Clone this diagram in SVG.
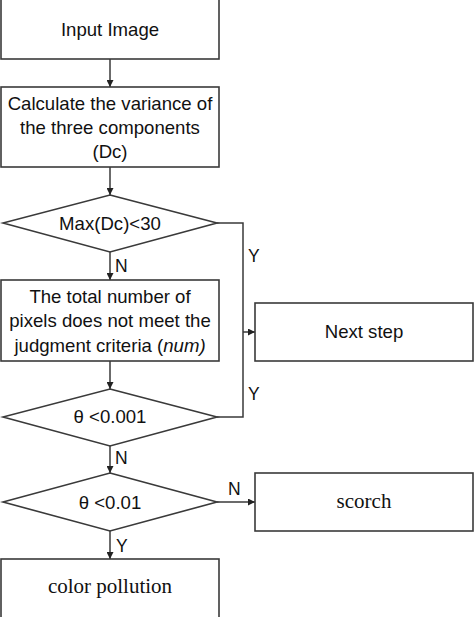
<svg xmlns="http://www.w3.org/2000/svg" width="474" height="617" viewBox="0 0 474 617">
<style>
.b{fill:#fff;stroke:#3a3a3a;stroke-width:1.6}
.c{fill:none;stroke:#3a3a3a;stroke-width:1.5}
.t{font-family:"Liberation Sans",Arial,sans-serif;font-size:18.6px;fill:#111;text-anchor:middle}
.s{font-family:"Liberation Serif","Times New Roman",serif;font-size:21px;fill:#111;text-anchor:middle}
.l{font-family:"Liberation Sans",Arial,sans-serif;font-size:17.5px;fill:#111}
</style>
<defs>
<marker id="a" viewBox="0 0 10 10" refX="10" refY="5" markerWidth="7" markerHeight="7" markerUnits="userSpaceOnUse" orient="auto"><path d="M0,0 L10,5 L0,10 z" fill="#222"/></marker>
</defs>
<rect width="474" height="617" fill="#fff"/>
<g id="connectors">
<path class="c" d="M110,59 V87" marker-end="url(#a)"/>
<path class="c" d="M110,167 V195" marker-end="url(#a)"/>
<path class="c" d="M110,252 V280" marker-end="url(#a)"/>
<path class="c" d="M110,361 V389" marker-end="url(#a)"/>
<path class="c" d="M110,446 V473" marker-end="url(#a)"/>
<path class="c" d="M110,531 V559" marker-end="url(#a)"/>
<path class="c" d="M217,223 H243 V417 H217"/>
<path class="c" d="M243,332 H255" marker-end="url(#a)"/>
<path class="c" d="M217,502 H255" marker-end="url(#a)"/>
<text class="l" x="248" y="262">Y</text>
<text class="l" x="248" y="400">Y</text>
<text class="l" x="115" y="272">N</text>
<text class="l" x="115" y="464">N</text>
<text class="l" x="228" y="495">N</text>
<text class="l" x="116" y="552">Y</text>
</g>
<g id="n1"><rect class="b" x="1" y="-2" width="218" height="61"/><text class="t" x="110" y="36">Input Image</text></g>
<g id="n2"><rect class="b" x="1" y="87" width="218" height="80"/><text class="t" x="110" y="110">Calculate the variance of</text><text class="t" x="110" y="134">the three components</text><text class="t" x="110" y="158">(Dc)</text></g>
<g id="d1"><polygon class="b" points="110,195 217,223 110,252 3,223"/><text class="t" x="110" y="230">Max(Dc)&lt;30</text></g>
<g id="n3"><rect class="b" x="1" y="280" width="218" height="81"/><text class="t" x="110" y="303">The total number of</text><text class="t" x="110" y="327">pixels does not meet the</text><text class="t" x="110" y="352">judgment criteria (<tspan font-style="italic">num)</tspan></text></g>
<g id="next"><rect class="b" x="255" y="303" width="218" height="58"/><text class="t" x="364" y="338">Next step</text></g>
<g id="d2"><polygon class="b" points="110,389 217,417 110,446 3,417"/><text class="t" x="110" y="423">θ &lt;0.001</text></g>
<g id="d3"><polygon class="b" points="110,473 217,502 110,531 3,502"/><text class="t" x="110" y="509">θ &lt;0.01</text></g>
<g id="scorch"><rect class="b" x="255" y="473" width="218" height="58"/><text class="s" x="364" y="508">scorch</text></g>
<g id="cp"><rect class="b" x="1" y="559" width="218" height="62"/><text class="s" x="110" y="593">color pollution</text></g>
</svg>
